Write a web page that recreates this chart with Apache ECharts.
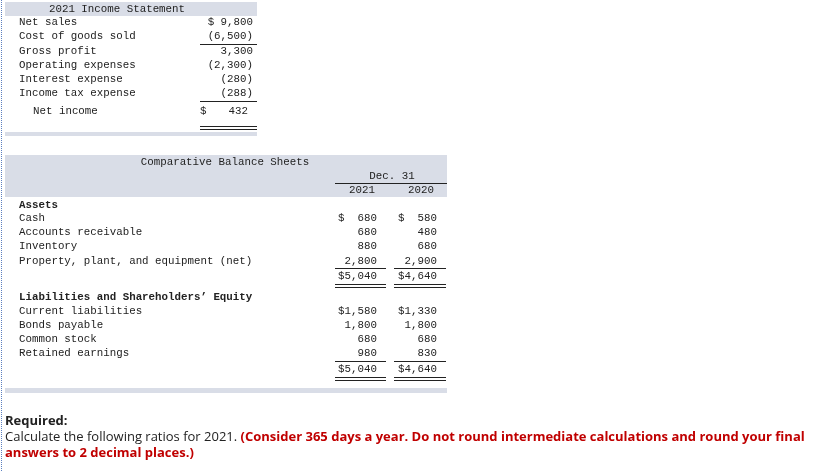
<!DOCTYPE html><html><head><meta charset="utf-8">
<script src="https://cdn.jsdelivr.net/npm/echarts@6/dist/echarts.min.js"></script>
<style>html,body{margin:0;padding:0;background:#fff}#c{width:825px;height:472px}</style></head><body><div id="c"></div>
<script>
const isLabels=["Net sales","Cost of goods sold","Gross profit","Operating expenses","Interest expense","Income tax expense"];
const isValues=["$ 9,800","(6,500)","3,300","(2,300)","(280)","(288)"];
const netIncome="432";
const assetLabels=["Cash","Accounts receivable","Inventory","Property, plant, and equipment (net)"];
const assets2021=["$  680","680","880","2,800"];
const assets2020=["$  580","480","680","2,900"];
const liabLabels=["Current liabilities","Bonds payable","Common stock","Retained earnings"];
const liab2021=["$1,580","1,800","680","980"];
const liab2020=["$1,330","1,800","680","830"];
const totals2021="$5,040", totals2020="$4,640";

const MONO='"Liberation Mono","DejaVu Sans Mono",monospace';
const FS=10.8, HEAD='#d9dde7', C='#222';
const g=[];
function t(x,y,s,o={}){g.push({type:'text',x:x,y:y,style:Object.assign({text:s,font:(o.bold?'bold ':'')+FS+'px '+MONO,fill:C,textAlign:o.align||'left',textVerticalAlign:'middle'},o.style||{})});}
function r(x,y,w,h,fill){g.push({type:'rect',shape:{x:x,y:y,width:w,height:h},style:{fill:fill}});}
function l(x1,y,x2,w){g.push({type:'line',shape:{x1:x1,y1:y,x2:x2,y2:y},style:{stroke:'#222',lineWidth:w||1}});}
g.push({type:'line',shape:{x1:1.5,y1:0,x2:1.5,y2:472},style:{stroke:'#5b7fc0',lineWidth:1,lineDash:[1,1]}});
r(5,2,252,14,HEAD);
t(117,9,"2021 Income Statement",{align:'center'});
const isY=[22,36,51,65,79,93];
isLabels.forEach((s,i)=>{t(19,isY[i],s);t(253,isY[i],isValues[i],{align:'right'});});
l(200,44.5,257);l(200,101.5,257);
t(33,111,"Net income");t(200,111,"$");t(248,111,netIncome,{align:'right'});
l(200,126.5,257);l(200,129.5,257);
r(5,132,252,4,HEAD);
r(5,155,442,42,HEAD);
t(225,162,"Comparative Balance Sheets",{align:'center'});
t(392,176,"Dec. 31",{align:'center'});
l(335,183.5,447);
t(362,190,"2021",{align:'center'});t(421,190,"2020",{align:'center'});
t(19,205,"Assets",{bold:true});
const aY=[218,232,246,261];
assetLabels.forEach((s,i)=>{t(19,aY[i],s);t(377,aY[i],assets2021[i],{align:'right'});t(437,aY[i],assets2020[i],{align:'right'});});
l(335,268.5,386);l(394,268.5,446);
t(377,276,totals2021,{align:'right'});t(437,276,totals2020,{align:'right'});
l(335,284.5,386);l(335,287.5,386);l(394,284.5,446);l(394,287.5,446);
t(19,297,"Liabilities and Shareholders’ Equity",{bold:true});
const lY=[311,325,339,353];
liabLabels.forEach((s,i)=>{t(19,lY[i],s);t(377,lY[i],liab2021[i],{align:'right'});t(437,lY[i],liab2020[i],{align:'right'});});
l(335,361.5,386);l(394,361.5,446);
t(377,369,totals2021,{align:'right'});t(437,369,totals2020,{align:'right'});
l(335,377.5,386);l(335,380.5,386);l(394,377.5,446);l(394,380.5,446);
r(5,388,442,5,HEAD);
const SANS='"Open Sans","Noto Sans",sans-serif';
g.push({type:'text',x:5,y:421,style:{text:"Required:",font:'bold 13px '+SANS,fill:'#222',textVerticalAlign:'middle'}});
g.push({type:'text',x:5,y:437,style:{text:"{a|Calculate the following ratios for 2021. }{b|(Consider 365 days a year. Do not round intermediate calculations and round your final}",textVerticalAlign:'middle',rich:{a:{font:'13px '+SANS,fill:'#222'},b:{font:'bold 13px '+SANS,fill:'#c00000'}}}});
g.push({type:'text',x:5,y:453,style:{text:"answers to 2 decimal places.)",font:'bold 13px '+SANS,fill:'#c00000',textVerticalAlign:'middle'}});
const ch=echarts.init(document.getElementById('c'));
ch.setOption({animation:false,graphic:g});
</script></body></html>
